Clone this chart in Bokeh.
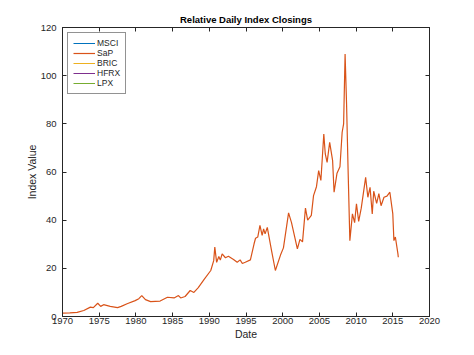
from bokeh.plotting import figure
from bokeh.models import LinearAxis, FixedTicker, Range1d, Legend, LegendItem, ColumnDataSource
from bokeh.embed import file_html
from bokeh.resources import INLINE

series_names = ["MSCI", "SaP", "BRIC", "HFRX", "LPX"]
series_colors = ["#0072BD", "#D95319", "#EDB120", "#7E2F8E", "#77AC30"]

sap_years = [1970.0, 1971.0, 1972.0, 1972.9, 1973.8, 1974.2, 1974.8, 1975.2, 1975.6, 1976.5,
             1977.5, 1978.0, 1978.8, 1979.9, 1980.4, 1980.8, 1981.3, 1982.0, 1983.3, 1984.3,
             1985.2, 1985.8, 1986.1, 1986.7, 1987.4, 1987.9, 1988.5, 1989.25, 1990.2, 1990.6,
             1990.75, 1991.0, 1991.3, 1991.5, 1991.75, 1992.2, 1992.6, 1993.3, 1993.8, 1994.2,
             1994.5, 1994.9, 1995.6, 1996.1, 1996.3, 1996.6, 1996.9, 1997.2, 1997.4, 1997.6,
             1997.9, 1998.5, 1999.0, 1999.7, 2000.1, 2000.8, 2001.2, 2002.0, 2002.35, 2002.7,
             2003.1, 2003.4, 2003.9, 2004.2, 2004.6, 2004.9, 2005.2, 2005.4, 2005.6, 2005.8,
             2006.05, 2006.4, 2006.8, 2007.0, 2007.4, 2007.8, 2008.1, 2008.3, 2008.5, 2008.7,
             2008.9, 2009.15, 2009.5, 2009.8, 2010.05, 2010.35, 2010.7, 2011.3, 2011.6, 2011.9,
             2012.2, 2012.4, 2012.8, 2013.1, 2013.4, 2013.8, 2014.2, 2014.6, 2015.0, 2015.15,
             2015.35, 2015.7, 2015.75]
sap_values = [1.4, 1.5, 1.7, 2.5, 3.9, 3.7, 5.5, 4.2, 4.9, 4.2,
              3.7, 4.2, 5.3, 6.6, 7.4, 8.7, 7.0, 6.2, 6.4, 8.0,
              7.7, 8.7, 7.7, 8.3, 10.8, 10.0, 12.0, 15.2, 19.1, 23.2,
              28.8, 22.5, 24.9, 23.4, 26.0, 24.4, 25.0, 23.7, 22.5, 23.5,
              22.0, 22.5, 23.5, 30.2, 32.5, 33.0, 37.8, 33.7, 36.4, 34.3,
              37.0, 27.0, 19.1, 25.5, 28.5, 43.0, 39.0, 28.1, 32.0, 31.0,
              45.0, 40.0, 42.0, 50.2, 53.9, 60.6, 56.5, 66.0, 75.8, 67.5,
              64.0, 72.3, 64.7, 51.6, 59.5, 62.2, 76.5, 80.0, 109.0, 88.3,
              62.0, 31.5, 42.6, 39.0, 46.8, 39.5, 45.0, 57.8, 49.5, 53.6,
              42.6, 52.0, 47.0, 51.0, 46.0, 49.5, 50.0, 51.6, 42.6, 31.5,
              33.0, 26.0, 24.6]

x_ticks = [1970, 1975, 1980, 1985, 1990, 1995, 2000, 2005, 2010, 2015, 2020]
y_ticks = [0, 20, 40, 60, 80, 100, 120]

FONT = "Liberation Sans"
AX = "#262626"

p = figure(width=474, height=355, output_backend="svg", toolbar_location=None,
           x_range=Range1d(1970, 2020), y_range=Range1d(0, 120),
           min_border_left=62, min_border_right=45, min_border_top=27, min_border_bottom=39)
p.title.text = "Relative Daily Index Closings"
p.title.align = "center"
p.title.text_font = FONT
p.title.text_font_size = "9.5px"
p.title.text_font_style = "bold"
p.title.text_color = "#000000"
p.title.offset = 0
p.title.standoff = 5

p.grid.visible = False
p.outline_line_color = AX
p.outline_line_width = 1

def style_axis(ax, labels=True):
    ax.axis_line_color = AX
    ax.major_tick_line_color = AX
    ax.major_tick_in = 4
    ax.major_tick_out = 0
    ax.minor_tick_line_color = None
    ax.major_label_text_font = FONT
    ax.major_label_text_font_size = "9.5px"
    ax.major_label_text_color = AX
    ax.axis_label_text_font = FONT
    ax.axis_label_text_font_size = "10.5px"
    ax.axis_label_text_font_style = "normal"
    ax.axis_label_text_color = AX
    if not labels:
        ax.major_label_text_font_size = "0px"
        ax.major_label_text_alpha = 0
        ax.major_label_standoff = 0

p.xaxis.ticker = FixedTicker(ticks=x_ticks)
p.yaxis.ticker = FixedTicker(ticks=y_ticks)
style_axis(p.xaxis[0])
style_axis(p.yaxis[0])
p.xaxis.axis_label = "Date"
p.yaxis.axis_label = "Index Value"
p.xaxis.major_label_standoff = 1
p.yaxis.major_label_standoff = 6
p.xaxis.axis_label_standoff = 1
p.yaxis.axis_label_standoff = 0

top = LinearAxis(ticker=FixedTicker(ticks=x_ticks))
style_axis(top, labels=False)
right = LinearAxis(ticker=FixedTicker(ticks=y_ticks))
style_axis(right, labels=False)
p.add_layout(top, "above")
p.add_layout(right, "right")

nan = float("nan")
renderers = []
for name, color in zip(series_names, series_colors):
    if name == "SaP":
        src = ColumnDataSource(dict(x=sap_years, y=sap_values))
        r = p.line("x", "y", source=src, line_color=color, line_width=1.2)
    else:
        src = ColumnDataSource(dict(x=[nan], y=[nan]))
        r = p.line("x", "y", source=src, line_color=color, line_width=1)
    renderers.append(r)

legend = Legend(items=[LegendItem(label=n, renderers=[r]) for n, r in zip(series_names, renderers)],
                location="top_left")
legend.label_text_font = FONT
legend.label_text_font_size = "8.5px"
legend.label_text_color = AX
legend.label_height = 8
legend.label_width = 10
legend.label_standoff = 2
legend.glyph_height = 8
legend.glyph_width = 22
legend.spacing = -2
legend.padding = 5
legend.margin = 5
legend.border_line_color = AX
legend.border_line_width = 1
legend.background_fill_alpha = 1
p.add_layout(legend)

open("out.html", "w").write(file_html(p, INLINE))
